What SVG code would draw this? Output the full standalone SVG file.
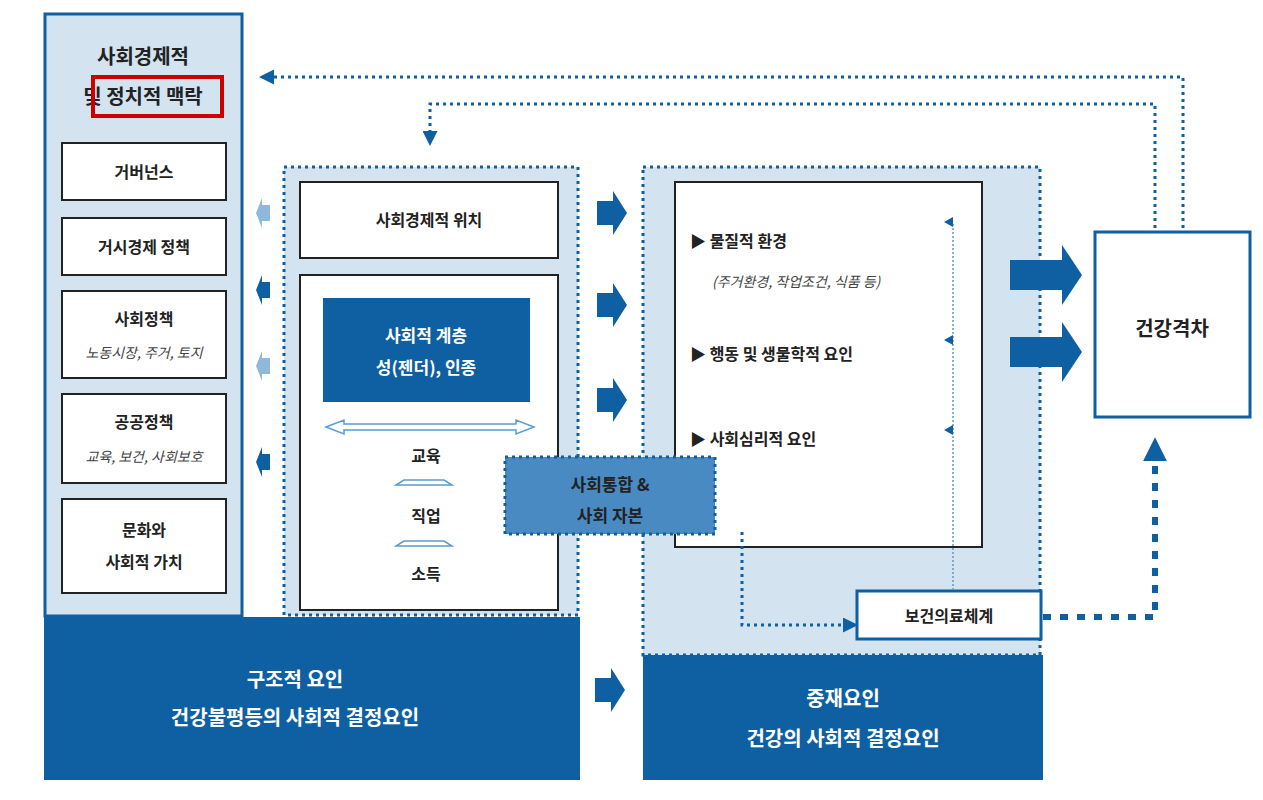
<svg xmlns="http://www.w3.org/2000/svg" width="1263" height="800" viewBox="0 0 1263 800">
<style>
text{font-family:"Noto Sans CJK KR","Noto Sans",sans-serif;font-weight:bold;text-anchor:middle;fill:#222}
.w{fill:#fff}
.it{font-style:italic;font-weight:normal;font-size:14px;fill:#444}
.bx{fill:#fff;stroke:#222;stroke-width:2}
.dk{fill:#0f5fa3}
.dot{fill:none;stroke:#0f5fa3;stroke-width:3;stroke-dasharray:3 4}
.thk{fill:none;stroke:#0f5fa3;stroke-width:6;stroke-dasharray:8 9}
</style>
<defs>
<marker id="ah" viewBox="0 0 10 10" refX="8" refY="5" markerWidth="5" markerHeight="5" orient="auto"><path d="M0 0L10 5L0 10z" fill="#0f5fa3"/></marker>
<marker id="ah2" viewBox="0 0 10 10" refX="8" refY="5" markerWidth="4" markerHeight="4" orient="auto"><path d="M0 0L10 5L0 10z" fill="#0f5fa3"/></marker>
<path id="ba" d="M0 -12H16V-22L30 0L16 22V12H0Z"/>
</defs>
<rect width="1263" height="800" fill="#fff"/>
<g id="context">
<rect x="45" y="14" width="197" height="602" fill="#d3e3f0" stroke="#0f5fa3" stroke-width="3"/>
<text x="143" y="64" font-size="20">사회경제적</text>
<text x="143" y="104" font-size="20">및 정치적 맥락</text>
<rect x="93" y="77" width="129" height="39" fill="none" stroke="#c00" stroke-width="4"/>
</g>
<g id="n1"><rect class="bx" x="62" y="143" width="164" height="57"/><text x="144" y="178" font-size="16">거버넌스</text></g>
<g id="n2"><rect class="bx" x="62" y="218" width="164" height="57"/><text x="144" y="253" font-size="16">거시경제 정책</text></g>
<g id="n3"><rect class="bx" x="62" y="291" width="164" height="87"/><text x="144" y="325" font-size="16">사회정책</text><text class="it" x="144" y="358">노동시장, 주거, 토지</text></g>
<g id="n4"><rect class="bx" x="62" y="394" width="164" height="89"/><text x="144" y="428" font-size="16">공공정책</text><text class="it" x="144" y="462">교육, 보건, 사회보호</text></g>
<g id="n5"><rect class="bx" x="62" y="499" width="164" height="94"/><text x="144" y="536" font-size="16">문화와</text><text x="144" y="568" font-size="16">사회적 가치</text></g>
<g id="structural"><rect class="dk" x="44" y="617" width="536" height="163"/><text class="w" x="295" y="687" font-size="20">구조적 요인</text><text class="w" x="295" y="725" font-size="20">건강불평등의 사회적 결정요인</text></g>
<g id="mid">
<rect x="284" y="167" width="294" height="448" fill="#d3e3f0" stroke="#0f5fa3" stroke-width="3" stroke-dasharray="3 4"/>
<rect class="bx" x="300" y="182" width="258" height="76"/><text x="429" y="226" font-size="16">사회경제적 위치</text>
<rect class="bx" x="300" y="275" width="258" height="335"/>
<rect class="dk" x="323" y="298" width="207" height="104"/>
<text class="w" x="426" y="342" font-size="17">사회적 계층</text><text class="w" x="426" y="374" font-size="17">성(젠더), 인종</text>
<path d="M326 427L344 420V424H516V420L534 427L516 434V430H344V434Z" fill="#fff" stroke="#5b9bd0" stroke-width="1.5"/>
<text x="426" y="462" font-size="16">교육</text>
<path d="M404 480H444L452 485H396Z" fill="#fff" stroke="#5b9bd0" stroke-width="1.5"/>
<text x="426" y="522" font-size="16">직업</text>
<path d="M404 541H444L452 546H396Z" fill="#fff" stroke="#5b9bd0" stroke-width="1.5"/>
<text x="426" y="580" font-size="16">소득</text>
</g>
<g id="right">
<rect x="643" y="167" width="397" height="488" fill="#d3e3f0" stroke="#0f5fa3" stroke-width="3" stroke-dasharray="3 4"/>
<rect class="bx" x="675" y="182" width="307" height="365"/>
<g style="text-anchor:start"><text x="690" y="247" font-size="16" style="text-anchor:start">▶ 물질적 환경</text>
<text class="it" x="712" y="287" style="text-anchor:start">(주거환경, 작업조건, 식품 등)</text>
<text x="690" y="360" font-size="16" style="text-anchor:start">▶ 행동 및 생물학적 요인</text>
<text x="690" y="445" font-size="16" style="text-anchor:start">▶ 사회심리적 요인</text></g>
</g>
<g id="mediating"><rect class="dk" x="643" y="655" width="400" height="125"/><text class="w" x="843" y="706" font-size="20">중재요인</text><text class="w" x="843" y="746" font-size="20">건강의 사회적 결정요인</text></g>
<g id="social"><rect x="505" y="457" width="210" height="77" fill="#4a8ac2" stroke="#0f5fa3" stroke-width="3" stroke-dasharray="3 4"/><text x="610" y="491" font-size="17">사회통합 &amp;</text><text x="610" y="522" font-size="17">사회 자본</text></g>
<g id="health"><rect x="857" y="591" width="184" height="48" fill="#fff" stroke="#0f5fa3" stroke-width="3"/><text x="949" y="622" font-size="16">보건의료체계</text></g>
<g id="gap"><rect x="1095" y="232" width="155" height="185" fill="#fff" stroke="#0f5fa3" stroke-width="3"/><text x="1172" y="336" font-size="20">건강격차</text></g>
<g id="connectors">
<g fill="#0f5fa3">
<use href="#ba" x="597" y="213"/><use href="#ba" x="597" y="305"/><use href="#ba" x="597" y="400"/><use href="#ba" x="595" y="690" transform="translate(0 0)"/>
<path d="M1010 260H1062V245L1082 275L1062 305V290H1010Z"/>
<path d="M1010 337H1062V322L1082 352L1062 382V367H1010Z"/>
<path d="M270 205V221L262 221L262 228L256 213L262 198L262 205Z" fill="#8fb9dc"/>
<path d="M256 282V298L264 298L264 305L270 290L264 275L264 282Z" transform="rotate(180 263 290)"/>
<path d="M270 358V374L262 374L262 381L256 366L262 351L262 358Z" fill="#8fb9dc"/>
<path d="M256 454V470L264 470L264 477L270 462L264 447L264 454Z" transform="rotate(180 263 462)"/>
</g>
<path class="dot" d="M1183 228V77H262" marker-end="url(#ah)"/>
<path class="dot" d="M1155 228V104H430V143" marker-end="url(#ah)"/>
<path class="dot" d="M742 532V625H855" marker-end="url(#ah)" />
<path class="thk" d="M1043 617H1155V442" marker-end="url(#ah2)"/>
<path d="M953 590V222" fill="none" stroke="#5b9bd0" stroke-width="1.5" stroke-dasharray="2 2"/>
<g fill="#0f5fa3"><path d="M944 222L953 217V227Z"/><path d="M944 340L953 335V345Z"/><path d="M944 430L953 425V435Z"/></g>
</g>
</svg>
